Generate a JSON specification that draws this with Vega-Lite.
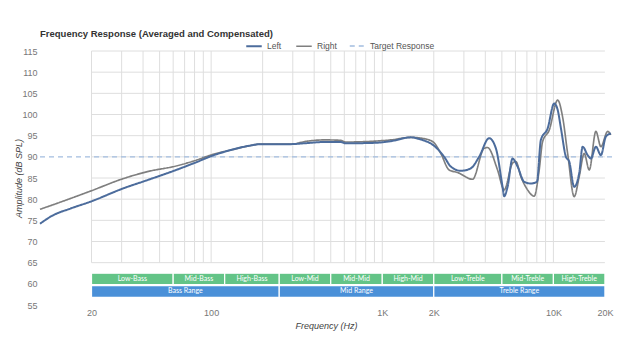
{
  "$schema": "https://vega.github.io/schema/vega-lite/v6.json",
  "width": 572,
  "height": 254,
  "autosize": {"type": "none"},
  "padding": {"left": 40, "top": 51, "right": 28, "bottom": 55},
  "background": "white",
  "config": {
    "view": {"stroke": null},
    "font": "Liberation Sans",
    "axis": {"grid": false, "domain": false, "ticks": false, "labelFontSize": 9, "labelColor": "#777777", "labelPadding": 3, "titleFontSize": 9, "titleFontStyle": "italic", "titleFontWeight": "normal", "titleColor": "#444444"},
    "axisX": {"titlePadding": 4},
    "axisY": {"titlePadding": -2}
  },
  "title": {"text": "Frequency Response (Averaged and Compensated)", "anchor": "start", "frame": "group", "fontSize": 9.5, "fontWeight": "bold", "color": "#333333", "offset": 14, "dy": 15},
  "datasets": {
    "curves": [
      {"series": "Target Response", "f": 10, "db": 90},
      {"series": "Target Response", "f": 22000, "db": 90},
      {"series": "Right", "f": 10, "db": 77.6},
      {"series": "Right", "f": 13.8, "db": 79.6},
      {"series": "Right", "f": 19.7, "db": 81.9},
      {"series": "Right", "f": 30.9, "db": 84.9},
      {"series": "Right", "f": 42.4, "db": 86.5},
      {"series": "Right", "f": 63.4, "db": 87.9},
      {"series": "Right", "f": 83, "db": 89.3},
      {"series": "Right", "f": 99.3, "db": 90.4},
      {"series": "Right", "f": 130, "db": 91.6},
      {"series": "Right", "f": 166, "db": 92.6},
      {"series": "Right", "f": 195, "db": 93.0},
      {"series": "Right", "f": 290, "db": 93.0},
      {"series": "Right", "f": 365, "db": 93.7},
      {"series": "Right", "f": 457, "db": 94.0},
      {"series": "Right", "f": 571, "db": 93.9},
      {"series": "Right", "f": 612, "db": 93.5},
      {"series": "Right", "f": 896, "db": 93.7},
      {"series": "Right", "f": 1121, "db": 94.0},
      {"series": "Right", "f": 1468, "db": 94.6},
      {"series": "Right", "f": 1800, "db": 94.2},
      {"series": "Right", "f": 2009, "db": 93.3},
      {"series": "Right", "f": 2198, "db": 90.8},
      {"series": "Right", "f": 2458, "db": 86.9},
      {"series": "Right", "f": 2754, "db": 86.3},
      {"series": "Right", "f": 3369, "db": 84.7},
      {"series": "Right", "f": 3937, "db": 92.0},
      {"series": "Right", "f": 4121, "db": 92.2},
      {"series": "Right", "f": 4718, "db": 86.9},
      {"series": "Right", "f": 5157, "db": 82.2},
      {"series": "Right", "f": 5771, "db": 88.5},
      {"series": "Right", "f": 6035, "db": 88.9},
      {"series": "Right", "f": 6457, "db": 85.3},
      {"series": "Right", "f": 7066, "db": 82.2},
      {"series": "Right", "f": 7720, "db": 80.7},
      {"series": "Right", "f": 8260, "db": 86.9},
      {"series": "Right", "f": 8650, "db": 93.6},
      {"series": "Right", "f": 9450, "db": 96.3},
      {"series": "Right", "f": 10590, "db": 103.4},
      {"series": "Right", "f": 11320, "db": 99.4},
      {"series": "Right", "f": 12110, "db": 90.8},
      {"series": "Right", "f": 13230, "db": 80.6},
      {"series": "Right", "f": 14150, "db": 85.3},
      {"series": "Right", "f": 15140, "db": 90.8},
      {"series": "Right", "f": 16200, "db": 86.9},
      {"series": "Right", "f": 17710, "db": 96.0},
      {"series": "Right", "f": 18950, "db": 92.4},
      {"series": "Right", "f": 20750, "db": 96.0},
      {"series": "Right", "f": 21680, "db": 95.2},
      {"series": "Left", "f": 10, "db": 74.2},
      {"series": "Left", "f": 11.8, "db": 76.1},
      {"series": "Left", "f": 15.1, "db": 77.8},
      {"series": "Left", "f": 19.7, "db": 79.4},
      {"series": "Left", "f": 30.9, "db": 82.6},
      {"series": "Left", "f": 42.4, "db": 84.5},
      {"series": "Left", "f": 60.6, "db": 86.7},
      {"series": "Left", "f": 79.3, "db": 88.5},
      {"series": "Left", "f": 103.8, "db": 90.4},
      {"series": "Left", "f": 130, "db": 91.6},
      {"series": "Left", "f": 166, "db": 92.6},
      {"series": "Left", "f": 195, "db": 93.0},
      {"series": "Left", "f": 290, "db": 93.0},
      {"series": "Left", "f": 349, "db": 93.2},
      {"series": "Left", "f": 457, "db": 93.5},
      {"series": "Left", "f": 571, "db": 93.5},
      {"series": "Left", "f": 612, "db": 93.2},
      {"series": "Left", "f": 896, "db": 93.3},
      {"series": "Left", "f": 1121, "db": 93.7},
      {"series": "Left", "f": 1468, "db": 94.6},
      {"series": "Left", "f": 1680, "db": 94.1},
      {"series": "Left", "f": 2009, "db": 92.6},
      {"series": "Left", "f": 2300, "db": 90.0},
      {"series": "Left", "f": 2515, "db": 87.7},
      {"series": "Left", "f": 2879, "db": 86.7},
      {"series": "Left", "f": 3294, "db": 87.3},
      {"series": "Left", "f": 3681, "db": 90.0},
      {"series": "Left", "f": 4213, "db": 94.4},
      {"series": "Left", "f": 4613, "db": 92.0},
      {"series": "Left", "f": 5046, "db": 82.9},
      {"series": "Left", "f": 5157, "db": 80.7},
      {"series": "Left", "f": 5397, "db": 82.9},
      {"series": "Left", "f": 5771, "db": 89.6},
      {"series": "Left", "f": 6175, "db": 87.7},
      {"series": "Left", "f": 6750, "db": 84.1},
      {"series": "Left", "f": 7389, "db": 83.7},
      {"series": "Left", "f": 8010, "db": 84.1},
      {"series": "Left", "f": 8450, "db": 94.0},
      {"series": "Left", "f": 9250, "db": 96.7},
      {"series": "Left", "f": 10110, "db": 102.6},
      {"series": "Left", "f": 10590, "db": 101.1},
      {"series": "Left", "f": 11070, "db": 96.7},
      {"series": "Left", "f": 11840, "db": 90.0},
      {"series": "Left", "f": 12370, "db": 88.9},
      {"series": "Left", "f": 13230, "db": 82.9},
      {"series": "Left", "f": 14150, "db": 86.1},
      {"series": "Left", "f": 14820, "db": 92.4},
      {"series": "Left", "f": 15850, "db": 90.4},
      {"series": "Left", "f": 16560, "db": 89.6},
      {"series": "Left", "f": 17710, "db": 92.4},
      {"series": "Left", "f": 18950, "db": 90.4},
      {"series": "Left", "f": 20270, "db": 94.8},
      {"series": "Left", "f": 21680, "db": 95.5}
    ],
    "hgrid": [{"db": 65}, {"db": 70}, {"db": 75}, {"db": 80}, {"db": 85}, {"db": 90}, {"db": 95}, {"db": 100}, {"db": 105}, {"db": 110}, {"db": 115}],
    "vgrid": [{"f": 20}, {"f": 30}, {"f": 40}, {"f": 50}, {"f": 60}, {"f": 70}, {"f": 80}, {"f": 90}, {"f": 100}, {"f": 200}, {"f": 300}, {"f": 400}, {"f": 500}, {"f": 600}, {"f": 700}, {"f": 800}, {"f": 900}, {"f": 1000}, {"f": 2000}, {"f": 3000}, {"f": 4000}, {"f": 5000}, {"f": 6000}, {"f": 7000}, {"f": 8000}, {"f": 9000}, {"f": 10000}],
    "bands": [
      {"label": "Low-Bass", "f1": 20, "f2": 60},
      {"label": "Mid-Bass", "f1": 60, "f2": 120},
      {"label": "High-Bass", "f1": 120, "f2": 250},
      {"label": "Low-Mid", "f1": 250, "f2": 500},
      {"label": "Mid-Mid", "f1": 500, "f2": 1000},
      {"label": "High-Mid", "f1": 1000, "f2": 2000},
      {"label": "Low-Treble", "f1": 2000, "f2": 5000},
      {"label": "Mid-Treble", "f1": 5000, "f2": 10000},
      {"label": "High-Treble", "f1": 10000, "f2": 20000}
    ],
    "ranges": [
      {"label": "Bass Range", "f1": 20, "f2": 250},
      {"label": "Mid Range", "f1": 250, "f2": 2000},
      {"label": "Treble Range", "f1": 2000, "f2": 20000}
    ]
  },
  "layer": [
    {
      "data": {"name": "hgrid"},
      "mark": {"type": "rule", "color": "#dedede", "strokeWidth": 1},
      "encoding": {
        "x": {"datum": 20, "type": "quantitative", "scale": {"type": "log", "domain": [10, 22000], "nice": false},
          "axis": {"values": [20, 100, 1000, 2000, 10000, 20000], "labelExpr": "datum.value >= 1000 ? (datum.value / 1000) + 'K' : datum.value", "title": "Frequency (Hz)"}},
        "x2": {"datum": 20000},
        "y": {"field": "db", "type": "quantitative", "scale": {"domain": [55, 115], "nice": false, "zero": false},
          "axis": {"values": [55, 60, 65, 70, 75, 80, 85, 90, 95, 100, 105, 110, 115], "title": "Amplitude (dB SPL)"}}
      }
    },
    {
      "data": {"name": "vgrid"},
      "mark": {"type": "rule", "color": "#dedede", "strokeWidth": 1},
      "encoding": {
        "x": {"field": "f", "type": "quantitative", "scale": {"type": "log", "domain": [10, 22000], "nice": false},
          "axis": {"values": [20, 100, 1000, 2000, 10000, 20000], "labelExpr": "datum.value >= 1000 ? (datum.value / 1000) + 'K' : datum.value", "title": "Frequency (Hz)"}},
        "y": {"datum": 65, "type": "quantitative", "scale": {"domain": [55, 115], "nice": false, "zero": false},
          "axis": {"values": [55, 60, 65, 70, 75, 80, 85, 90, 95, 100, 105, 110, 115], "title": "Amplitude (dB SPL)"}},
        "y2": {"datum": 115}
      }
    },
    {
      "data": {"name": "bands"},
      "mark": {"type": "rect", "color": "#63c487", "stroke": "white", "strokeWidth": 1.2},
      "encoding": {
        "x": {"field": "f1", "type": "quantitative", "scale": {"type": "log", "domain": [10, 22000], "nice": false},
          "axis": {"values": [20, 100, 1000, 2000, 10000, 20000], "labelExpr": "datum.value >= 1000 ? (datum.value / 1000) + 'K' : datum.value", "title": "Frequency (Hz)"}},
        "x2": {"field": "f2"},
        "y": {"datum": 62.5, "type": "quantitative", "scale": {"domain": [55, 115], "nice": false, "zero": false},
          "axis": {"values": [55, 60, 65, 70, 75, 80, 85, 90, 95, 100, 105, 110, 115], "title": "Amplitude (dB SPL)"}},
        "y2": {"datum": 59.8}
      }
    },
    {
      "data": {"name": "ranges"},
      "mark": {"type": "rect", "color": "#4a90d8", "stroke": "white", "strokeWidth": 1.2},
      "encoding": {
        "x": {"field": "f1", "type": "quantitative", "scale": {"type": "log", "domain": [10, 22000], "nice": false},
          "axis": {"values": [20, 100, 1000, 2000, 10000, 20000], "labelExpr": "datum.value >= 1000 ? (datum.value / 1000) + 'K' : datum.value", "title": "Frequency (Hz)"}},
        "x2": {"field": "f2"},
        "y": {"datum": 59.6, "type": "quantitative", "scale": {"domain": [55, 115], "nice": false, "zero": false},
          "axis": {"values": [55, 60, 65, 70, 75, 80, 85, 90, 95, 100, 105, 110, 115], "title": "Amplitude (dB SPL)"}},
        "y2": {"datum": 56.8}
      }
    },
    {
      "data": {"name": "bands"},
      "transform": [{"calculate": "sqrt(datum.f1 * datum.f2)", "as": "mid"}],
      "mark": {"type": "text", "color": "white", "fontSize": 7, "font": "Lato", "baseline": "middle", "align": "center"},
      "encoding": {
        "x": {"field": "mid", "type": "quantitative", "scale": {"type": "log", "domain": [10, 22000], "nice": false},
          "axis": {"values": [20, 100, 1000, 2000, 10000, 20000], "labelExpr": "datum.value >= 1000 ? (datum.value / 1000) + 'K' : datum.value", "title": "Frequency (Hz)"}},
        "y": {"datum": 61.15, "type": "quantitative", "scale": {"domain": [55, 115], "nice": false, "zero": false},
          "axis": {"values": [55, 60, 65, 70, 75, 80, 85, 90, 95, 100, 105, 110, 115], "title": "Amplitude (dB SPL)"}},
        "text": {"field": "label"}
      }
    },
    {
      "data": {"name": "ranges"},
      "transform": [{"calculate": "sqrt(datum.f1 * datum.f2)", "as": "mid"}],
      "mark": {"type": "text", "color": "white", "fontSize": 7, "font": "Lato", "baseline": "middle", "align": "center"},
      "encoding": {
        "x": {"field": "mid", "type": "quantitative", "scale": {"type": "log", "domain": [10, 22000], "nice": false},
          "axis": {"values": [20, 100, 1000, 2000, 10000, 20000], "labelExpr": "datum.value >= 1000 ? (datum.value / 1000) + 'K' : datum.value", "title": "Frequency (Hz)"}},
        "y": {"datum": 58.2, "type": "quantitative", "scale": {"domain": [55, 115], "nice": false, "zero": false},
          "axis": {"values": [55, 60, 65, 70, 75, 80, 85, 90, 95, 100, 105, 110, 115], "title": "Amplitude (dB SPL)"}},
        "text": {"field": "label"}
      }
    },
    {
      "data": {"name": "curves"},
      "mark": {"type": "line", "interpolate": "monotone"},
      "encoding": {
        "x": {"field": "f", "type": "quantitative", "scale": {"type": "log", "domain": [10, 22000], "nice": false},
          "axis": {"values": [20, 100, 1000, 2000, 10000, 20000], "labelExpr": "datum.value >= 1000 ? (datum.value / 1000) + 'K' : datum.value", "title": "Frequency (Hz)"}},
        "y": {"field": "db", "type": "quantitative", "scale": {"domain": [55, 115], "nice": false, "zero": false},
          "axis": {"values": [55, 60, 65, 70, 75, 80, 85, 90, 95, 100, 105, 110, 115], "title": "Amplitude (dB SPL)"}},
        "color": {"field": "series", "type": "nominal", "scale": {"domain": ["Left", "Right", "Target Response"], "range": ["#4c6c9c", "#7f7f7f", "#a3bde0"]},
          "legend": {"orient": "none", "legendX": 205, "legendY": -14, "direction": "horizontal", "title": null, "symbolType": "stroke", "symbolSize": 240, "symbolStrokeWidth": 1.8, "labelFontSize": 8.5, "labelColor": "#555555", "columnPadding": 10, "labelOffset": 4}},
        "strokeDash": {"field": "series", "type": "nominal", "scale": {"domain": ["Left", "Right", "Target Response"], "range": [[1, 0], [1, 0], [5, 4]]},
          "legend": {"orient": "none", "legendX": 205, "legendY": -14, "direction": "horizontal", "title": null, "symbolType": "stroke", "symbolSize": 240, "symbolStrokeWidth": 1.8, "labelFontSize": 8.5, "labelColor": "#555555", "columnPadding": 10, "labelOffset": 4}},
        "strokeWidth": {"field": "series", "type": "ordinal", "scale": {"domain": ["Left", "Right", "Target Response"], "range": [2, 1.3, 1.4]}, "legend": null}
      }
    }
  ]
}
